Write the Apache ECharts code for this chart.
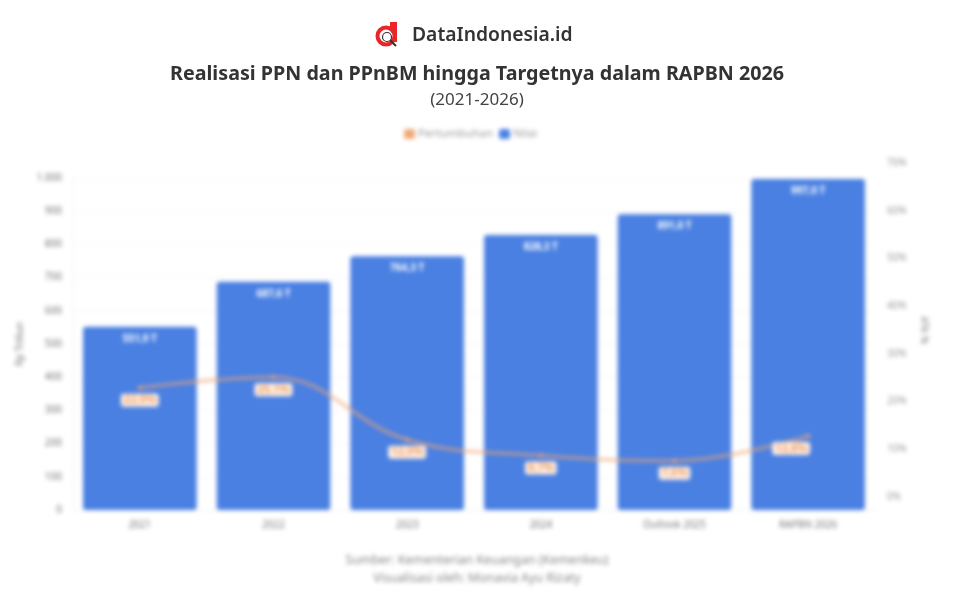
<!DOCTYPE html>
<html>
<head>
<meta charset="utf-8">
<title>Realisasi PPN dan PPnBM</title>
<script src="https://cdn.jsdelivr.net/npm/echarts@6/dist/echarts.min.js"></script>
<style>
  html, body { margin: 0; padding: 0; background: #fff; }
  #head { position: absolute; left: 0; top: 0; width: 954px; height: 118px; }
  /* the original is blurred from the legend downwards */
  #plot { position: absolute; left: 0; top: 118px; width: 954px; height: 478px; filter: blur(2.3px); }
</style>
</head>
<body>
<div id="head"></div>
<div id="plot"></div>
<script>
var categories = ['2021', '2022', '2023', '2024', 'Outlook 2025', 'RAPBN 2026'];
var nilai = [551.9, 687.6, 764.3, 828.3, 891.0, 997.0];
var pertumbuhan = [22.9, 25.1, 12.0, 8.7, 7.6, 12.8];
var footer = ['Sumber: Kementerian Keuangan (Kemenkeu)', 'Visualisasi oleh: Monavia Ayu Rizaty'];

var font = '"Noto Sans", sans-serif';

var headChart = echarts.init(document.getElementById('head'));
headChart.setOption({
    animation: false,
    title: [
        { text: 'DataIndonesia.id', left: 407, top: 21,
          textStyle: { fontFamily: font, fontSize: 19.3, fontWeight: 600, color: '#333' } },
        { text: 'Realisasi PPN dan PPnBM hingga Targetnya dalam RAPBN 2026', left: 'center', top: 59,
          textStyle: { fontFamily: font, fontSize: 19.7, fontWeight: 'bold', color: '#333' } },
        { text: '(2021-2026)', left: 'center', top: 87,
          textStyle: { fontFamily: font, fontSize: 17, fontWeight: 'normal', color: '#444' } }
    ],
    graphic: [
        { type: 'rect', shape: { x: 390, y: 22, width: 7, height: 20 }, style: { fill: '#e8262a' } },
        { type: 'circle', shape: { cx: 386, cy: 36, r: 8.5 }, style: { fill: '#fff', stroke: '#e8262a', lineWidth: 4 } },
        { type: 'line', shape: { x1: 390, y1: 40, x2: 396, y2: 46 }, style: { stroke: '#333', lineWidth: 2 } },
        { type: 'circle', shape: { cx: 387, cy: 37, r: 4.5 }, style: { fill: '#fff', stroke: '#333', lineWidth: 1.2 } }
    ]
});

var myChart = echarts.init(document.getElementById('plot'));

var lineData = [];
for (var i = 0; i < pertumbuhan.length; i++) {
    // the last label sits left of its point in the original
    lineData.push(i == 5
        ? { value: pertumbuhan[i], label: { offset: [-17, 0] } }
        : pertumbuhan[i]);
}

myChart.setOption({
    animation: false,
    textStyle: { fontFamily: font },
    title: {
        text: footer.join('\n'),
        left: 'center',
        top: 428,
        textStyle: { fontFamily: font, fontSize: 12.4, fontWeight: 'normal', color: '#888', lineHeight: 18 }
    },
    legend: {
        data: ['Pertumbuhan', 'Nilai'],
        top: 5,
        left: 399,
        itemWidth: 11,
        itemHeight: 10,
        itemGap: 6,
        icon: 'roundRect',
        textStyle: { fontSize: 11.5, color: '#999', padding: [0, 0, 0, -2] }
    },
    color: ['#f9c39c', '#4a80e2'],
    grid: [
        // bars and line use different zero lines
        { left: 73, right: 79, top: 60, bottom: 86 },
        { left: 73, right: 79, top: 45, bottom: 99 }
    ],
    xAxis: [
        {
            type: 'category', data: categories, gridIndex: 0,
            axisLine: { lineStyle: { color: '#eee' } },
            axisTick: { show: false },
            axisLabel: { fontSize: 10, color: '#777', margin: 10 }
        },
        { type: 'category', data: categories, gridIndex: 1, show: false }
    ],
    yAxis: [
        {
            type: 'value', gridIndex: 0, min: 0, max: 1000, interval: 100,
            name: 'Rp Triliun', nameLocation: 'middle', nameGap: 45, nameRotate: 90,
            nameTextStyle: { fontSize: 10, color: '#777' },
            axisLine: { show: true, lineStyle: { color: '#f2f2f2' } },
            axisLabel: {
                fontSize: 10, color: '#777', margin: 11,
                formatter: function (v) { return String(v).replace(/(\d)(\d{3})$/, '$1.$2'); }
            },
            splitLine: { lineStyle: { color: '#f5f5f5' } }
        },
        {
            type: 'value', gridIndex: 1, position: 'right', min: 0, max: 70, interval: 10,
            name: '% YoY', nameLocation: 'middle', nameGap: 46, nameRotate: 90,
            nameTextStyle: { fontSize: 10, color: '#777' },
            axisLine: { show: false },
            axisTick: { show: false },
            axisLabel: { fontSize: 10, color: '#999', margin: 12, formatter: '{value}%' },
            splitLine: { show: false }
        }
    ],
    series: [
        {
            name: 'Pertumbuhan',
            type: 'line',
            xAxisIndex: 1,
            yAxisIndex: 1,
            smooth: 0.4,
            z: 3,
            data: lineData,
            symbol: 'circle',
            symbolSize: 4,
            itemStyle: { color: '#f0a878' },
            lineStyle: { width: 3, color: 'rgba(240,165,115,0.65)' },
            label: {
                show: true, position: 'bottom', distance: 4,
                fontSize: 11, fontWeight: 'bold', color: '#f0a26b',
                backgroundColor: '#fff0e4', borderRadius: 3, padding: [1, 3],
                formatter: function (p) { return p.value.toFixed(1).replace('.', ',') + '%'; }
            }
        },
        {
            name: 'Nilai',
            type: 'bar',
            xAxisIndex: 0,
            yAxisIndex: 0,
            barWidth: '85%',
            z: 2,
            data: nilai,
            itemStyle: { color: '#4a80e2', borderRadius: 3 },
            label: {
                show: true, position: 'insideTop', distance: 7,
                fontSize: 10, fontWeight: 'bold', color: '#fff',
                formatter: function (p) { return p.value.toFixed(1).replace('.', ',') + ' T'; }
            }
        }
    ]
});
</script>
</body>
</html>
